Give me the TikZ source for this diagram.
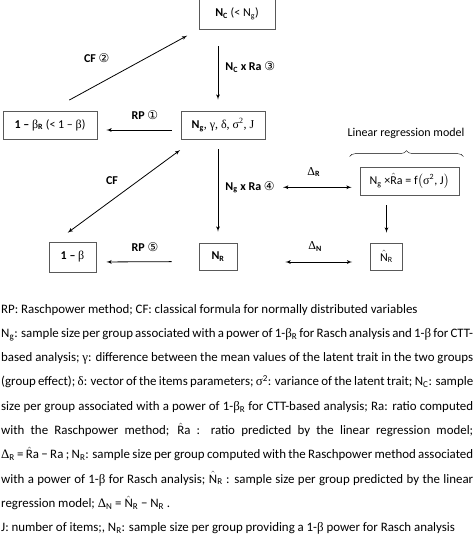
\documentclass[tikz,border=0pt]{standalone}
\usepackage{amsmath}
\usepackage{fontspec}
\setmainfont{Carlito}
\newfontfamily\grk{Liberation Serif}
\newfontfamily\circfont{DejaVu Sans}
\usetikzlibrary{shapes,arrows,decorations.pathreplacing}

\newcommand{\gr}[1]{{\grk #1}}
\newcommand{\cnum}[1]{{\circfont\mdseries #1}}
\newcommand{\hatR}{\ensuremath{\hat{\text{R}}}}
\newcommand{\hatN}{\ensuremath{\hat{\text{N}}}}

\begin{document}
\begin{tikzpicture}[x=1pt, y=-1pt, font=\fontsize{12}{14}\selectfont]
        % Define block styles
        \tikzstyle{block} = [rectangle, draw=black!65, line width=0.8pt,
            inner sep=2pt, minimum height=28pt]
        \tikzstyle{lab} = [font=\bfseries\fontsize{12}{14}\selectfont, inner sep=1pt]
        \tikzstyle{line} = [draw, -latex', line width=0.8pt]
        \tikzstyle{dline} = [draw, latex'-latex', line width=0.8pt]

        \useasboundingbox (0,0) rectangle (474,536);

        % Nodes
        \node [block, minimum width=76pt, minimum height=30pt] (nc) at (237,14)
            {\textbf{N\textsubscript{C}} (< N\textsubscript{g})};
        \node [block, minimum width=94pt] (betar) at (50,125)
            {\textbf{1 – }\gr{β}\textbf{\textsubscript{R}} (< 1 – \gr{β})};
        \node [block, minimum width=84pt] (ng) at (223,125)
            {\textbf{N\textsubscript{g}}\gr{, γ, δ, σ\textsuperscript{2}, J}};
        \node [block, minimum width=99pt] (reg) at (409.5,181)
            {N\textsubscript{g} ×\hatR a = f$\bigl($\gr{σ}\textsuperscript{2}, J$\bigr)$};
        \node [block, minimum width=47pt, minimum height=30pt] (beta) at (72.5,257)
            {\textbf{1 – }\gr{β}};
        \node [block, minimum width=38pt, minimum height=27pt] (nr) at (218,256.5)
            {\textbf{N\textsubscript{R}}};
        \node [block, minimum width=32pt, minimum height=27pt] (nrhat) at (386.5,256.5)
            {\hatN\textsubscript{R}};
        \node (lrm) at (406,133) {Linear regression model};
        \draw [decorate, decoration={brace, amplitude=6pt}]
            ([shift={(-10pt,10pt)}]reg.north west) -- ([shift={(4pt,10pt)}]reg.north east);
        \node [lab] (cflab) at (112,181) {CF};

        % Arrows
        \path [line, shorten <=22pt, shorten >=13pt] (betar.north)
            -- node[lab, pos=0.315, above=21pt] {CF \cnum{②}} (nc.south west);
        \path [line, shorten <=17pt, shorten >=11pt] ([xshift=-19pt]nc.south)
            -- node[lab, pos=0.46, right=6pt] {N\textsubscript{C} x Ra \cnum{③}} ([xshift=-5pt]ng.north);
        \path [line, shorten <=9pt, shorten >=9pt] ([yshift=-5pt]ng.west)
            -- node[lab, pos=0.43, above=9pt] {RP \cnum{①}} ([yshift=-5pt]betar.east);
        \path [dline, shorten <=15pt, shorten >=18pt] ([xshift=7pt]beta.north west)
            -- ([xshift=14pt]ng.south west);
        \path [line, shorten <=10pt, shorten >=11pt] ([xshift=-5pt]ng.south)
            -- node[lab, pos=0.464, right=6pt] (lab4) {N\textsubscript{g} x Ra \cnum{④}} (nr.north);
        \path [dline, shorten <=7pt, shorten >=8pt] (lab4.east)
            -- node[lab, pos=0.45, above=9pt] {\gr{\mdseries Δ}\textsubscript{R}} (lab4.east -| reg.west);
        \path [line, shorten <=10pt, shorten >=10pt] (reg.south -| nrhat.north) -- (nrhat.north);
        \path [line, shorten <=27pt, shorten >=10pt] ([yshift=-5pt]nr.west)
            -- node[lab, pos=0.524, above=9pt] {RP \cnum{⑤}} ([yshift=-5pt]beta.east);
        \path [dline, shorten <=48pt, shorten >=18pt] ([yshift=-5.5pt]nr.east)
            -- node[lab, pos=0.586, above=9pt] {\gr{\mdseries Δ}\textsubscript{N}} ([yshift=-5.5pt]nrhat.west);

        % Legend
        \node [anchor=base west, text width=472pt, align=justify, inner sep=0pt,
            font=\fontsize{12.9}{24.3}\selectfont] (legend) at (1,313) {\tolerance=3000
            \spaceskip=0.22em plus 0.6em minus 0.1em
            RP: Raschpower method; CF: classical formula for normally distributed variables\par
            N\textsubscript{g}: sample size per group associated with a power of 1-\gr{β}\textsubscript{R} for Rasch analysis and 1-\gr{β} for CTT-\linebreak
            based analysis; \gr{γ}: difference between the mean values of the latent trait in the two groups\linebreak
            (group effect); \gr{δ}: vector of the items parameters; \gr{σ}\textsuperscript{2}: variance of the latent trait; N\textsubscript{C}: sample\linebreak
            size per group associated with a power of 1-\gr{β}\textsubscript{R} for CTT-based analysis; Ra: ratio computed\linebreak
            with the Raschpower method; \hatR a : ratio predicted by the linear regression model;\linebreak
            \gr{Δ}\textsubscript{R} = \hatR a − Ra ; N\textsubscript{R}: sample size per group computed with the Raschpower method associated\linebreak
            with a power of 1-\gr{β} for Rasch analysis; \hatN\textsubscript{R} : sample size per group predicted by the linear\linebreak
            regression model; \gr{Δ}\textsubscript{N} = \hatN\textsubscript{R} − N\textsubscript{R} .\par
            J: number of items;, N\textsubscript{R}: sample size per group providing a 1-\gr{β} power for Rasch analysis};
    \end{tikzpicture}
\end{document}
